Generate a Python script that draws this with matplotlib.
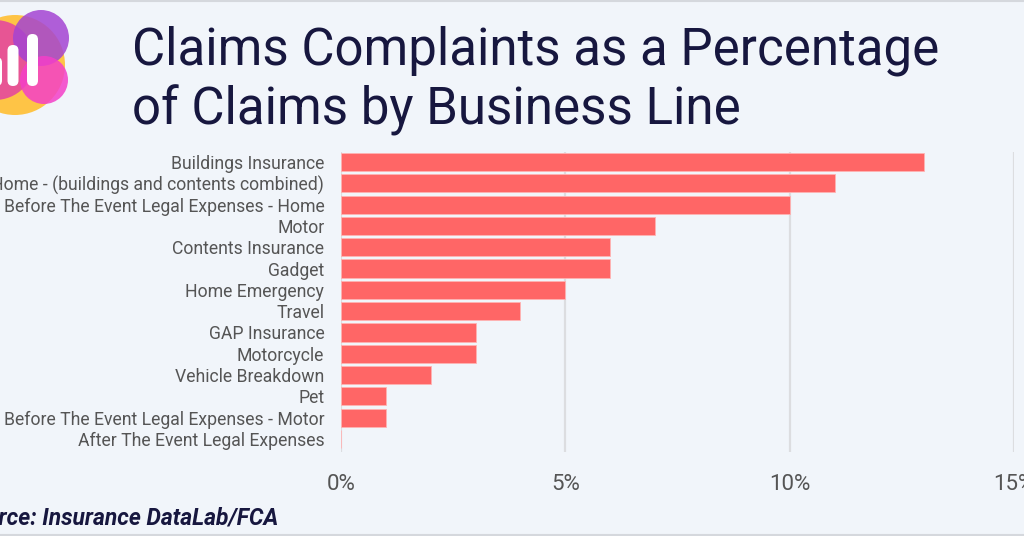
import matplotlib.pyplot as plt
from matplotlib.patches import Circle, FancyBboxPatch
from matplotlib.ticker import FuncFormatter

plt.rcParams['font.family'] = ['Roboto', 'DejaVu Sans']

# data
lines = [
    'Buildings Insurance',
    'Home - (buildings and contents combined)',
    'Before The Event Legal Expenses - Home',
    'Motor',
    'Contents Insurance',
    'Gadget',
    'Home Emergency',
    'Travel',
    'GAP Insurance',
    'Motorcycle',
    'Vehicle Breakdown',
    'Pet',
    'Before The Event Legal Expenses - Motor',
    'After The Event Legal Expenses',
]
pct = [13, 11, 10, 7, 6, 6, 5, 4, 3, 3, 2, 1, 1, 0]
xticks = [0, 5, 10, 15]

bg = '#f1f5fa'
navy = '#17173f'

fig = plt.figure(figsize=(10.24, 5.36), dpi=100, facecolor=bg)
ax = fig.add_axes([341 / 1024, 1 - 452 / 536, 673 / 1024, 300 / 536], facecolor=bg)

pos = list(range(len(lines)))
ax.barh(pos, pct, height=0.85, color='#ff6666', edgecolor='#ffb3b3', linewidth=0.6, zorder=2)
ax.set_yticks(pos)
ax.set_yticklabels(lines, fontsize=12.7, color='#555555')
ax.set_ylim(len(lines) - 1 + 0.61, -0.47)
ax.set_xlim(0, 15)
ax.set_xticks(xticks)
ax.xaxis.set_major_formatter(FuncFormatter(lambda v, p: f'{v:.0f}%'))
ax.tick_params(axis='x', labelsize=16, labelcolor='#555555', length=0, pad=16)
ax.tick_params(axis='y', length=0, pad=12)
ax.grid(axis='x', color='#dcdde0', linewidth=1.6, zorder=0)
for s in ax.spines.values():
    s.set_visible(False)

# title
fig.text(132 / 1024, 1 - 65 / 536, 'Claims Complaints as a Percentage', fontsize=36.7,
         color=navy, va='baseline', ha='left')
fig.text(132 / 1024, 1 - 124 / 536, 'of Claims by Business Line', fontsize=36.7,
         color=navy, va='baseline', ha='left')
fig.text(-40 / 1024, 1 - 525 / 536, 'Source: Insurance DataLab/FCA', fontsize=16.5,
         color=navy, fontweight='bold', fontstyle='italic', ha='left', va='baseline')

# logo
lg = fig.add_axes([0, 1 - 130 / 536, 140 / 1024, 130 / 536])
lg.set_xlim(0, 140)
lg.set_ylim(130, 0)
lg.axis('off')
lg.add_patch(Circle((15, 65), 50, color='#ffc23c', alpha=0.95, lw=0))
lg.add_patch(Circle((-5, 60), 40, color='#e23aa8', alpha=0.8, lw=0))
lg.add_patch(Circle((41, 38), 28, color='#a444d2', alpha=0.85, lw=0))
lg.add_patch(Circle((44, 80), 24, color='#f43fc8', alpha=0.85, lw=0))
for bx, top in [(-3.5, 57), (13, 45), (32.5, 34)]:
    lg.add_patch(FancyBboxPatch((bx - 5.5, top), 11, 86 - top, boxstyle='round,pad=0,rounding_size=5.5',
                                color='white', lw=0))

fig.add_artist(plt.Line2D([0, 1], [0.999, 0.999], color='#d5d8dd', lw=1.5))
fig.add_artist(plt.Line2D([0, 1], [0.001, 0.001], color='#d5d8dd', lw=1.5))

fig.savefig('out.png', dpi=100, facecolor=bg)
